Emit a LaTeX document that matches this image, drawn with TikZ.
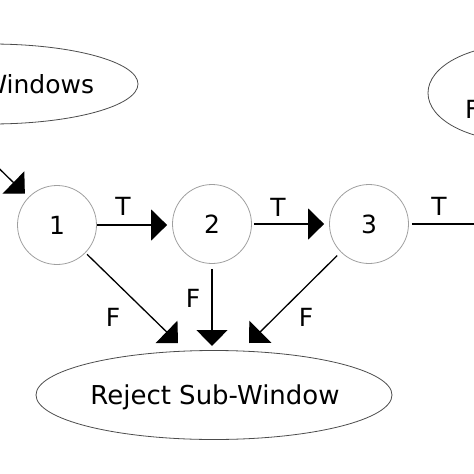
\documentclass[tikz,border=0pt]{standalone}
\usepackage{fontspec}
\setmainfont{DejaVu Sans}
\usetikzlibrary{arrows.meta,shapes.geometric}
\begin{document}
\begin{tikzpicture}[x=1pt,y=-1pt,
  every node/.style={font=\fontsize{25}{30}\selectfont},
  stage/.style={circle, draw=gray!75, line width=0.8pt, minimum size=79pt, inner sep=0pt},
  oval/.style={ellipse, draw=gray!60!black, line width=0.8pt, inner sep=0pt},
  flow/.style={draw=black, line width=1.3pt, -{Triangle[width=31pt,length=16pt]}},
  plain/.style={draw=black, line width=1.3pt},
  lab/.style={inner sep=0pt}]
\useasboundingbox (0,0) rectangle (474,474);
\clip (0,0) rectangle (474,474);
% terminal ellipses
\node[oval, minimum width=294pt, minimum height=80pt] (all) at (-9,84) {All Sub-Windows};
\node[oval, minimum width=180pt, minimum height=96pt] (fp) at (518,93) {};
\node[lab, anchor=base west] (fptext) at (465,118) {Further Processing};
\node[oval, minimum width=356pt, minimum height=89pt] (rej) at (214,395) {};
\node[lab, anchor=base, font=\fontsize{26}{30}\selectfont] (rejt) at (215,404) {Reject Sub-Window};
% stages
\node[stage] (n1) at (57,225) {1};
\node[stage] (n2) at (212,224) {2};
\node[stage] (n3) at (369,224) {3};
% connector end points
\coordinate (in) at (-25,145);
\coordinate (f1) at (178,343);
\coordinate (f2) at (212,346);
\coordinate (f3) at (249,343);
\coordinate (out) at (490,224);
% entry
\draw[flow, shorten >=5pt] (in) -- (n1);
% true branches
\draw[flow, shorten >=5pt] (n1.east) -- (n2.west |- n1.east);
\draw[flow, shorten >=5pt, shorten <=2pt] (n2.east) -- (n3.west |- n2.east);
\draw[plain, shorten <=3pt] (n3.east) -- (out);
\node[lab] (t1) at (123,206) {T};
\node[lab] (t2) at (278,207) {T};
\node[lab] (t3) at (439,206) {T};
% false branches
\draw[flow, shorten <=2pt] (n1) -- (f1);
\draw[flow, shorten <=5pt] (n2) -- (f2);
\draw[flow, shorten <=5pt] (n3) -- (f3);
\node[lab] (l1) at (113,317) {F};
\node[lab] (l2) at (193,298) {F};
\node[lab] (l3) at (306,317) {F};
\end{tikzpicture}
\end{document}
